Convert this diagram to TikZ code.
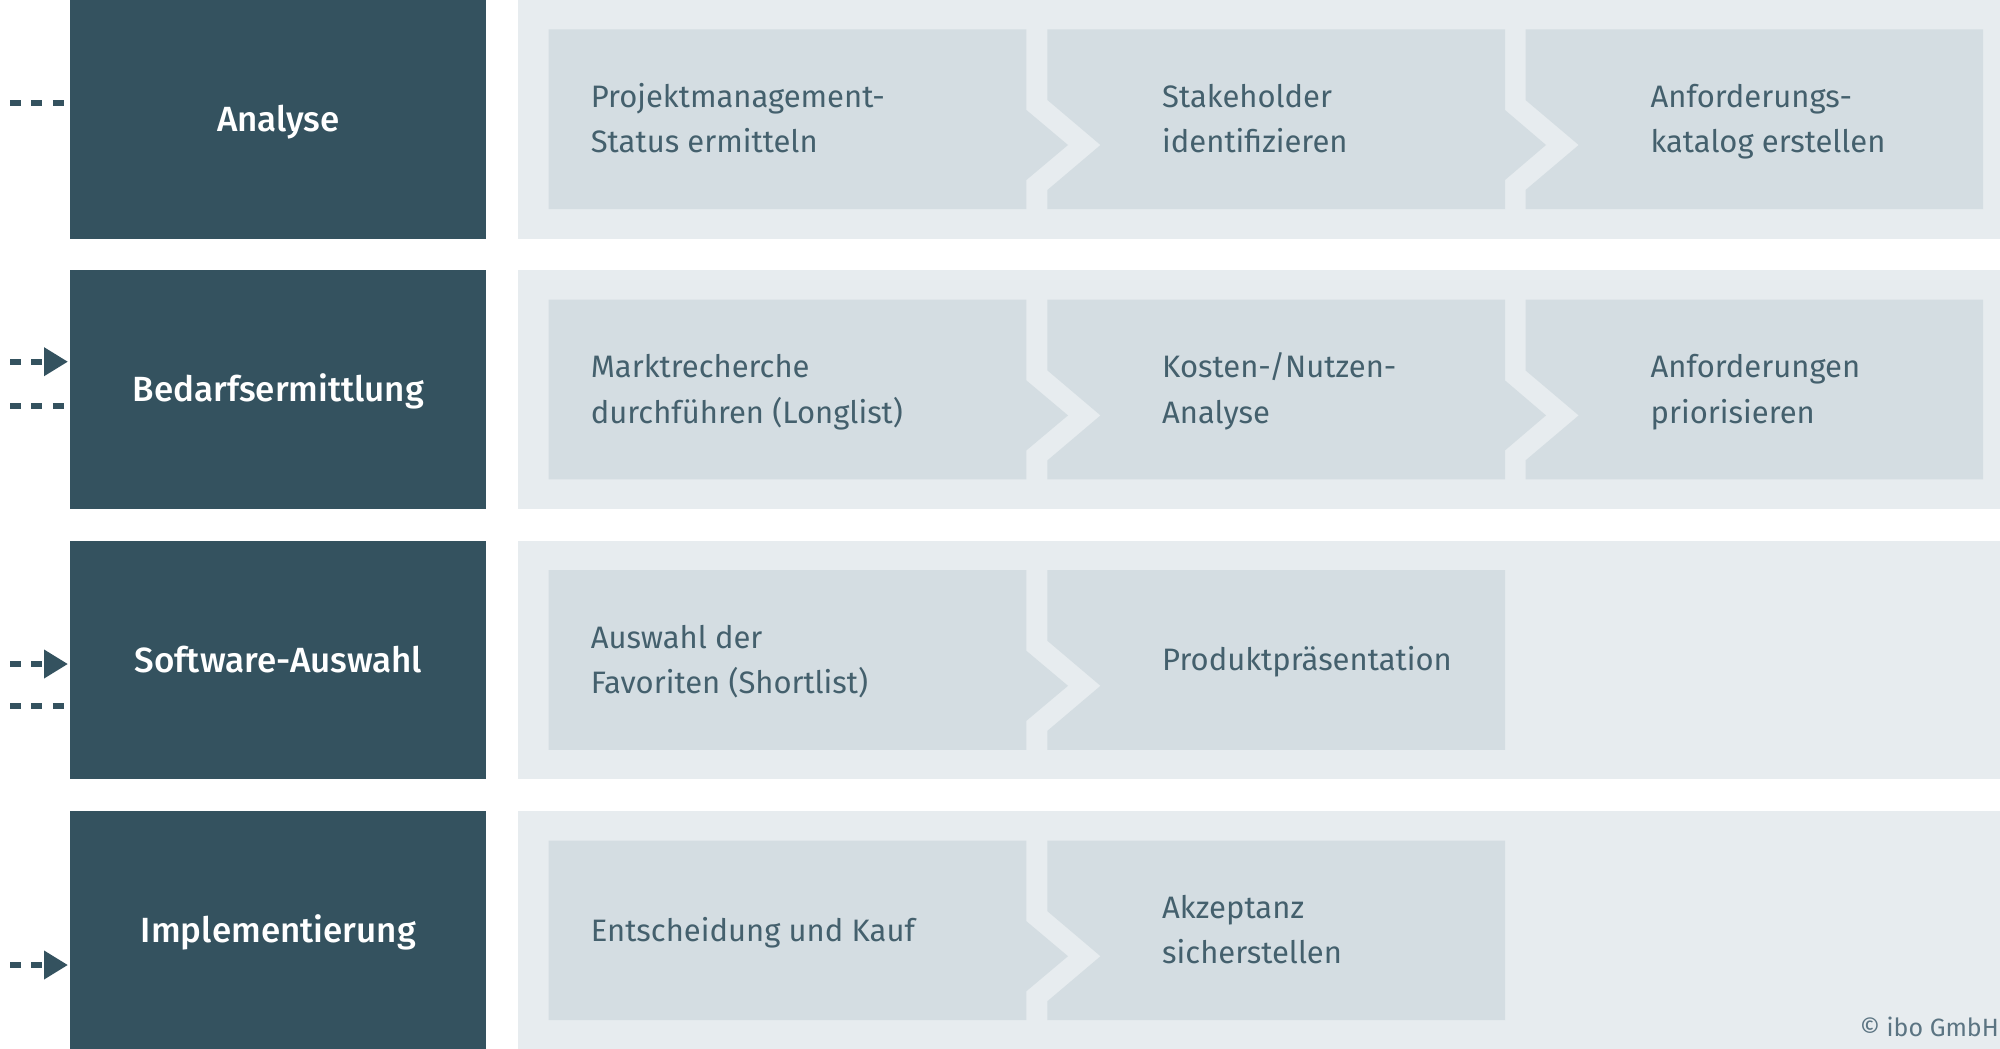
\documentclass[tikz,border=0pt]{standalone}
\usepackage{fontspec}
\setmainfont{Fira Sans}[BoldFont={Fira Sans Medium}]
\usetikzlibrary{arrows.meta}
\definecolor{darkslate}{HTML}{34525F}
\definecolor{panelbg}{HTML}{E7ECEF}
\definecolor{stepbg}{HTML}{D4DDE2}
\definecolor{steptext}{HTML}{44606D}
\definecolor{copytext}{HTML}{5B7482}
\tikzset{
  phase/.style={fill=darkslate, draw=none, minimum width=416pt, minimum height=238.5pt,
    inner sep=0pt, text=white, text height=24pt, text depth=0pt,
    font=\fontsize{35}{40}\selectfont\bfseries},
  panel/.style={fill=panelbg, draw=none},
  stepshape/.style={fill=stepbg, draw=none},
  steplabel/.style={anchor=base west, align=left, inner sep=0pt, text=steptext,
    font=\fontsize{31}{45.5}\selectfont},
  flowline/.style={draw=darkslate, line width=6pt, dash pattern=on 10.7pt off 10.7pt},
  flowarrow/.style={flowline, -{Triangle[length=24pt,width=27.3pt]}}
}
\begin{document}
\begin{tikzpicture}[x=1pt,y=-1pt]
\useasboundingbox (0,0) rectangle (2000,1049);
% panels
\foreach \T in {0,270.4,540.8,811.2}{
  \fill[panel] (517.6,\T) rectangle (2000,\T+238.5);
}
% rows 1 and 2 : three steps
\foreach \T in {0,270.4}{
  \fill[stepshape] (548.5,\T+29.3) -- (1026.4,\T+29.3) -- (1026.4,\T+110) -- (1068,\T+145)
     -- (1026.4,\T+180) -- (1026.4,\T+209) -- (548.5,\T+209) -- cycle;
  \fill[stepshape] (1047.4,\T+29.3) -- (1505,\T+29.3) -- (1505,\T+110) -- (1546,\T+145)
     -- (1505,\T+180) -- (1505,\T+209) -- (1047.4,\T+209) -- (1047.4,\T+190)
     -- (1100.5,\T+145) -- (1047.4,\T+100) -- cycle;
  \fill[stepshape] (1525.5,\T+29.3) -- (1983,\T+29.3) -- (1983,\T+209) -- (1525.5,\T+209)
     -- (1525.5,\T+190) -- (1578.7,\T+145) -- (1525.5,\T+100) -- cycle;
}
% rows 3 and 4 : two steps
\foreach \T in {540.8,811.2}{
  \fill[stepshape] (548.5,\T+29.3) -- (1026.4,\T+29.3) -- (1026.4,\T+110) -- (1068,\T+145)
     -- (1026.4,\T+180) -- (1026.4,\T+209) -- (548.5,\T+209) -- cycle;
  \fill[stepshape] (1047.4,\T+29.3) -- (1505,\T+29.3) -- (1505,\T+209) -- (1047.4,\T+209)
     -- (1047.4,\T+190) -- (1100.5,\T+145) -- (1047.4,\T+100) -- cycle;
}
% phase boxes
\node[phase] (p1) at (278.4,119.25) {Analyse};
\node[phase] (p2) at (278.4,389.65) {Bedarfsermittlung};
\node[phase] (p3) at (278.4,660.05) {Software-Auswahl};
\node[phase] (p4) at (278.4,930.45) {Implementierung};
% step labels (base anchor = baseline of last line)
\node[steplabel] (s11) at (590.6,152.7) {Projektmanagement-\\Status ermitteln};
\node[steplabel] (s12) at (1162,152.7) {Stakeholder\\identifizieren};
\node[steplabel] (s13) at (1650.5,152.7) {Anforderungs-\\katalog erstellen};
\node[steplabel] (s21) at (590.6,423.1) {Marktrecherche\\durchführen (Longlist)};
\node[steplabel] (s22) at (1162,423.1) {Kosten-/Nutzen-\\Analyse};
\node[steplabel] (s23) at (1650.5,423.1) {Anforderungen\\priorisieren};
\node[steplabel] (s31) at (590.6,693.5) {Auswahl der\\Favoriten (Shortlist)};
\node[steplabel] (s32) at (1162,670.8) {Produktpräsentation};
\node[steplabel] (s41) at (590.6,941.2) {Entscheidung und Kauf};
\node[steplabel] (s42) at (1162,963.9) {Akzeptanz\\sicherstellen};
% incoming / outgoing flow marks
\coordinate (a1) at (10,103.3);
\coordinate (b1) at (63.5,103.3);
\draw[flowline] (a1) -- (b1);
\coordinate (a2) at (10,361.7);
\coordinate (t2) at (68,361.7);
\draw[flowarrow] (a2) -- (t2);
\coordinate (c2) at (10,405.7);
\coordinate (d2) at (63.5,405.7);
\draw[flowline] (c2) -- (d2);
\coordinate (a3) at (10,664);
\coordinate (t3) at (68,664);
\draw[flowarrow] (a3) -- (t3);
\coordinate (c3) at (10,705.7);
\coordinate (d3) at (63.5,705.7);
\draw[flowline] (c3) -- (d3);
\coordinate (a4) at (10,965);
\coordinate (t4) at (68,965);
\draw[flowarrow] (a4) -- (t4);
% copyright
\node[anchor=base east, inner sep=0pt, text=copytext, font=\fontsize{25}{30}\selectfont] (copy) at (1999,1036.7) {© ibo GmbH};
\end{tikzpicture}
\end{document}
